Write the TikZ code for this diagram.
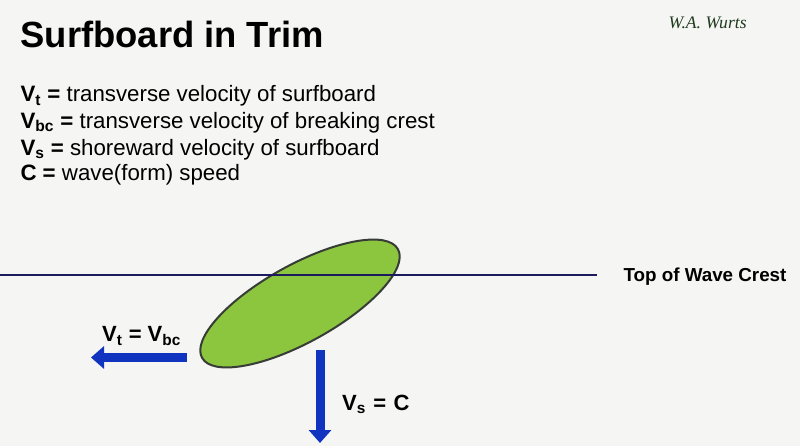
\documentclass[tikz,border=0pt]{standalone}
\usepackage{fontspec}
\setmainfont{Liberation Sans}
\newfontfamily\wurtsfont{Liberation Serif}
\usetikzlibrary{arrows.meta,shapes.geometric}

\definecolor{slidebg}{RGB}{245,245,243}
\definecolor{crestline}{RGB}{27,27,94}
\definecolor{boardgreen}{RGB}{140,198,62}
\definecolor{boardedge}{RGB}{55,60,55}
\definecolor{vecblue}{RGB}{16,52,192}
\definecolor{wurtsgreen}{RGB}{30,59,30}

\tikzset{every picture/.style={line width=0.75pt}}
\tikzset{
  vecarrow/.style={draw=vecblue, line width=6.75pt, -{Triangle[width=16.5pt,length=9.75pt]}},
  veclabel/.style={anchor=base west, inner sep=0pt, font=\fontsize{16.5}{19}\selectfont\bfseries},
  listline/.style={anchor=base west, inner sep=0pt, font=\fontsize{16.7}{20}\selectfont}
}

\begin{document}
\begin{tikzpicture}[x=0.75pt,y=0.75pt,yscale=-1,xscale=1]
\useasboundingbox (0,0) rectangle (800,446);
\fill[slidebg] (0,0) rectangle (800,446);

% Text Node
\node (title) at (20,47) [anchor=base west, inner sep=0pt, font=\fontsize{27.3}{32}\selectfont\bfseries] {Surfboard in Trim};
% Text Node
\node (author) at (668,28) [anchor=base west, inner sep=0pt, font=\wurtsfont\itshape\fontsize{13.2}{16}\selectfont, text=wurtsgreen] {W.A. Wurts};

% Text Node
\node (vt) at (20,101.7) [listline] {\textbf{V\textsubscript{t} =} transverse velocity of surfboard};
% Text Node
\node (vbc) at (20,128.3) [listline] {\textbf{V\textsubscript{bc} =} transverse velocity of breaking crest};
% Text Node
\node (vs) at (20,155) [listline] {\textbf{V\textsubscript{s} =} shoreward velocity of surfboard};
% Text Node
\node (cspeed) at (20,180) [listline] {\textbf{C =} wave(form) speed};

%Shape: Ellipse
\node (board) at (300,303.5) [ellipse, draw=boardedge, line width=1.5pt, fill=boardgreen, minimum width=168pt, minimum height=57.9pt, inner sep=0pt, rotate=29] {};

%Straight Lines
\coordinate (crestL) at (0,275);
\coordinate (crestR) at (597,275);
\draw [crestline, line width=1.5pt] (crestL) -- (crestR);
% Text Node
\node (crest) at (623,281.7) [anchor=base west, inner sep=0pt, font=\fontsize{14.1}{17}\selectfont\bfseries] {Top of Wave Crest};

%Straight Lines
\coordinate (vtS) at (187,357.5);
\coordinate (vtE) at (91,357.5);
\draw [vecarrow] (vtS) -- (vtE);
% Text Node
\node (vtlabel) at (101.7,341.7) [veclabel] {V\textsubscript{t} = V\textsubscript{bc}};

%Straight Lines
\coordinate (vsS) at (320,350);
\coordinate (vsE) at (320,443);
\draw [vecarrow] (vsS) -- (vsE);
% Text Node
\node (vslabel) at (341.7,410) [veclabel] {V\textsubscript{s}\,\,=\,\,C};

\end{tikzpicture}
\end{document}
